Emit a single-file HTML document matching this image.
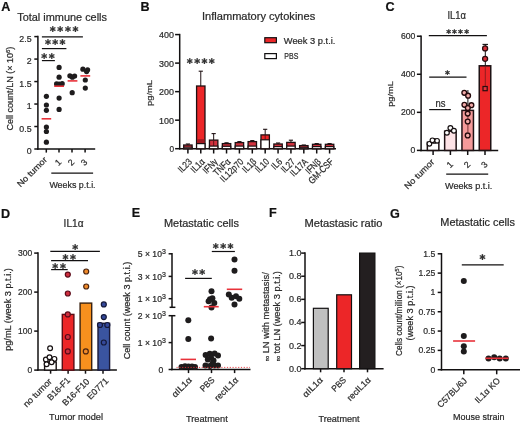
<!DOCTYPE html>
<html><head><meta charset="utf-8"><title>Figure</title>
<style>html,body{margin:0;padding:0;background:#fff;width:520px;height:425px;overflow:hidden}svg{display:block}text{stroke:#2a2a2a;stroke-width:0.22px;paint-order:stroke}</style></head>
<body>
<svg width="520" height="425" viewBox="0 0 520 425" font-family='"Liberation Sans", "DejaVu Sans", sans-serif' fill="#2a2a2a">
<rect width="100%" height="100%" fill="#fff"/>
<text x="1.2" y="11.3" font-size="12.6" font-weight="bold" fill="#111">A</text>
<text x="17.2" y="20.8" font-size="11" textLength="89.8" lengthAdjust="spacingAndGlyphs">Total immune cells</text>
<line x1="37.9" y1="35.86" x2="37.9" y2="149.75" stroke="#121011" stroke-width="1.5"/>
<line x1="34.3" y1="36.6" x2="37.9" y2="36.6" stroke="#121011" stroke-width="1.5"/>
<text x="31.6" y="41.6" font-size="8.8" text-anchor="end">2.5</text>
<line x1="34.3" y1="59.08" x2="37.9" y2="59.08" stroke="#121011" stroke-width="1.5"/>
<text x="31.6" y="64.08" font-size="8.8" text-anchor="end">2</text>
<line x1="34.3" y1="81.56" x2="37.9" y2="81.56" stroke="#121011" stroke-width="1.5"/>
<text x="31.6" y="86.56" font-size="8.8" text-anchor="end">1.5</text>
<line x1="34.3" y1="104.04" x2="37.9" y2="104.04" stroke="#121011" stroke-width="1.5"/>
<text x="31.6" y="109.04" font-size="8.8" text-anchor="end">1</text>
<line x1="34.3" y1="126.52" x2="37.9" y2="126.52" stroke="#121011" stroke-width="1.5"/>
<text x="31.6" y="131.52" font-size="8.8" text-anchor="end">0.5</text>
<line x1="34.3" y1="149" x2="37.9" y2="149" stroke="#121011" stroke-width="1.5"/>
<text x="31.6" y="154" font-size="8.8" text-anchor="end">0</text>
<line x1="37.15" y1="149" x2="95.2" y2="149" stroke="#121011" stroke-width="1.5"/>
<line x1="46.3" y1="149" x2="46.3" y2="152.6" stroke="#121011" stroke-width="1.5"/>
<line x1="59" y1="149" x2="59" y2="152.6" stroke="#121011" stroke-width="1.5"/>
<line x1="72" y1="149" x2="72" y2="152.6" stroke="#121011" stroke-width="1.5"/>
<line x1="85.1" y1="149" x2="85.1" y2="152.6" stroke="#121011" stroke-width="1.5"/>
<line x1="41.9" y1="36.8" x2="82.9" y2="36.8" stroke="#121011" stroke-width="1.2"/>
<text x="48.94" y="32.09" font-size="9.4" font-weight="bold" fill="#303030">∗</text>
<text x="56.54" y="32.09" font-size="9.4" font-weight="bold" fill="#303030">∗</text>
<text x="64.14" y="32.09" font-size="9.4" font-weight="bold" fill="#303030">∗</text>
<text x="71.64" y="32.09" font-size="9.4" font-weight="bold" fill="#303030">∗</text>
<line x1="41.9" y1="48.6" x2="66.4" y2="48.6" stroke="#121011" stroke-width="1.2"/>
<text x="44.24" y="45.29" font-size="9.4" font-weight="bold" fill="#303030">∗</text>
<text x="51.54" y="45.29" font-size="9.4" font-weight="bold" fill="#303030">∗</text>
<text x="58.74" y="45.29" font-size="9.4" font-weight="bold" fill="#303030">∗</text>
<line x1="41.9" y1="60.6" x2="54.9" y2="60.6" stroke="#121011" stroke-width="1.2"/>
<text x="40.44" y="59.49" font-size="9.4" font-weight="bold" fill="#303030">∗</text>
<text x="48.04" y="59.49" font-size="9.4" font-weight="bold" fill="#303030">∗</text>
<circle cx="46.4" cy="96.3" r="2.6" fill="#1e1c1d"/>
<circle cx="46.4" cy="105" r="2.6" fill="#1e1c1d"/>
<circle cx="46.4" cy="110.3" r="2.6" fill="#1e1c1d"/>
<circle cx="46.4" cy="127" r="2.6" fill="#1e1c1d"/>
<circle cx="46.4" cy="131.5" r="2.6" fill="#1e1c1d"/>
<circle cx="46.4" cy="142.2" r="2.6" fill="#1e1c1d"/>
<circle cx="59.1" cy="67.4" r="2.6" fill="#1e1c1d"/>
<circle cx="59.1" cy="77.2" r="2.6" fill="#1e1c1d"/>
<circle cx="56.6" cy="83.9" r="2.6" fill="#1e1c1d"/>
<circle cx="59.2" cy="84.2" r="2.6" fill="#1e1c1d"/>
<circle cx="62.2" cy="83.7" r="2.6" fill="#1e1c1d"/>
<circle cx="59.1" cy="98.1" r="2.6" fill="#1e1c1d"/>
<circle cx="59.1" cy="109.4" r="2.6" fill="#1e1c1d"/>
<circle cx="69.9" cy="75.8" r="2.6" fill="#1e1c1d"/>
<circle cx="72.4" cy="77.2" r="2.6" fill="#1e1c1d"/>
<circle cx="74.6" cy="76" r="2.6" fill="#1e1c1d"/>
<circle cx="72.2" cy="92.7" r="2.6" fill="#1e1c1d"/>
<circle cx="82.9" cy="69.2" r="2.6" fill="#1e1c1d"/>
<circle cx="87.6" cy="69.8" r="2.6" fill="#1e1c1d"/>
<circle cx="86.6" cy="71.6" r="2.6" fill="#1e1c1d"/>
<circle cx="85.3" cy="80" r="2.6" fill="#1e1c1d"/>
<circle cx="85.3" cy="88.1" r="2.6" fill="#1e1c1d"/>
<line x1="41.6" y1="118.8" x2="51.2" y2="118.8" stroke="#e8323a" stroke-width="1.6"/>
<line x1="54.2" y1="86.2" x2="64" y2="86.2" stroke="#e8323a" stroke-width="1.6"/>
<line x1="67.6" y1="80.9" x2="77.4" y2="80.9" stroke="#e8323a" stroke-width="1.6"/>
<line x1="80.4" y1="75.9" x2="90.2" y2="75.9" stroke="#e8323a" stroke-width="1.6"/>
<text x="47.7" y="160.3" font-size="8.5" text-anchor="end" textLength="38.6" lengthAdjust="spacingAndGlyphs" transform="rotate(-45 47.7 160.3)">No tumor</text>
<text x="62" y="162.8" font-size="8.8" text-anchor="end" transform="rotate(-45 62 162.8)">1</text>
<text x="75" y="162.8" font-size="8.8" text-anchor="end" transform="rotate(-45 75 162.8)">2</text>
<text x="88.1" y="162.8" font-size="8.8" text-anchor="end" transform="rotate(-45 88.1 162.8)">3</text>
<line x1="51.3" y1="173.1" x2="93.1" y2="173.1" stroke="#121011" stroke-width="1.3"/>
<text x="49.4" y="188.3" font-size="9.2" textLength="46.2" lengthAdjust="spacingAndGlyphs">Weeks p.t.i.</text>
<text x="13.4" y="88.6" font-size="9.2" text-anchor="middle" textLength="83.8" lengthAdjust="spacingAndGlyphs" transform="rotate(-90 13.4 88.6)">Cell count/LN (× 10<tspan font-size="6" dy="-3">6</tspan><tspan dy="3">)</tspan></text>
<text x="140.6" y="10.9" font-size="12.6" font-weight="bold" fill="#111">B</text>
<text x="202" y="19.5" font-size="10.2" textLength="113.2" lengthAdjust="spacingAndGlyphs">Inflammatory cytokines</text>
<rect x="264.8" y="37.7" width="11.6" height="5" fill="#ec2628" stroke="#121011" stroke-width="1.2"/>
<rect x="264.8" y="53.6" width="11.6" height="5" fill="#fff" stroke="#121011" stroke-width="1.2"/>
<text x="283.8" y="43.8" font-size="9.6" textLength="51.6" lengthAdjust="spacingAndGlyphs">Week 3 p.t.i.</text>
<text x="284.3" y="59.4" font-size="9.4" textLength="14" lengthAdjust="spacingAndGlyphs">PBS</text>
<line x1="179.7" y1="33.84" x2="179.7" y2="149.45" stroke="#121011" stroke-width="1.5"/>
<line x1="175.1" y1="34.58" x2="179.7" y2="34.58" stroke="#121011" stroke-width="1.5"/>
<text x="174" y="37.98" font-size="9.6" text-anchor="end" textLength="14.9" lengthAdjust="spacingAndGlyphs">400</text>
<line x1="175.1" y1="63.11" x2="179.7" y2="63.11" stroke="#121011" stroke-width="1.5"/>
<text x="174" y="66.51" font-size="9.6" text-anchor="end" textLength="14.9" lengthAdjust="spacingAndGlyphs">300</text>
<line x1="175.1" y1="91.64" x2="179.7" y2="91.64" stroke="#121011" stroke-width="1.5"/>
<text x="174" y="95.04" font-size="9.6" text-anchor="end" textLength="14.9" lengthAdjust="spacingAndGlyphs">200</text>
<line x1="175.1" y1="120.17" x2="179.7" y2="120.17" stroke="#121011" stroke-width="1.5"/>
<text x="174" y="123.57" font-size="9.6" text-anchor="end" textLength="14.9" lengthAdjust="spacingAndGlyphs">100</text>
<line x1="175.1" y1="148.7" x2="179.7" y2="148.7" stroke="#121011" stroke-width="1.5"/>
<text x="174" y="152.1" font-size="9.6" text-anchor="end" textLength="4.6" lengthAdjust="spacingAndGlyphs">0</text>
<line x1="178.95" y1="148.7" x2="336" y2="148.7" stroke="#121011" stroke-width="1.5"/>
<line x1="187.9" y1="148.7" x2="187.9" y2="153.5" stroke="#121011" stroke-width="1.5"/>
<line x1="200.78" y1="148.7" x2="200.78" y2="153.5" stroke="#121011" stroke-width="1.5"/>
<line x1="213.66" y1="148.7" x2="213.66" y2="153.5" stroke="#121011" stroke-width="1.5"/>
<line x1="226.54" y1="148.7" x2="226.54" y2="153.5" stroke="#121011" stroke-width="1.5"/>
<line x1="239.42" y1="148.7" x2="239.42" y2="153.5" stroke="#121011" stroke-width="1.5"/>
<line x1="252.3" y1="148.7" x2="252.3" y2="153.5" stroke="#121011" stroke-width="1.5"/>
<line x1="265.18" y1="148.7" x2="265.18" y2="153.5" stroke="#121011" stroke-width="1.5"/>
<line x1="278.06" y1="148.7" x2="278.06" y2="153.5" stroke="#121011" stroke-width="1.5"/>
<line x1="290.94" y1="148.7" x2="290.94" y2="153.5" stroke="#121011" stroke-width="1.5"/>
<line x1="303.82" y1="148.7" x2="303.82" y2="153.5" stroke="#121011" stroke-width="1.5"/>
<line x1="316.7" y1="148.7" x2="316.7" y2="153.5" stroke="#121011" stroke-width="1.5"/>
<line x1="329.58" y1="148.7" x2="329.58" y2="153.5" stroke="#121011" stroke-width="1.5"/>
<line x1="187.9" y1="144" x2="187.9" y2="145" stroke="#1e1012" stroke-width="1"/>
<line x1="185.8" y1="144" x2="190" y2="144" stroke="#1e1012" stroke-width="1.1"/>
<rect x="183.7" y="145" width="8.4" height="3.7" fill="#d2323e" stroke="#1e1012" stroke-width="1.3"/>
<rect x="183.7" y="147.2" width="8.4" height="1.5" fill="#ffffff" stroke="#1e1012" stroke-width="1.2"/>
<line x1="200.78" y1="71.2" x2="200.78" y2="86" stroke="#1e1012" stroke-width="1"/>
<line x1="198.68" y1="71.2" x2="202.88" y2="71.2" stroke="#1e1012" stroke-width="1.1"/>
<rect x="196.58" y="86" width="8.4" height="62.7" fill="#ec2628" stroke="#1e1012" stroke-width="1.3"/>
<rect x="197.18" y="139.2" width="7.2" height="4.4" fill="#a01820" stroke="none" stroke-width="0"/>
<rect x="196.58" y="143.6" width="8.4" height="5.1" fill="#ffffff" stroke="#1e1012" stroke-width="1.2"/>
<line x1="213.66" y1="133.6" x2="213.66" y2="140.1" stroke="#1e1012" stroke-width="1"/>
<line x1="211.56" y1="133.6" x2="215.76" y2="133.6" stroke="#1e1012" stroke-width="1.1"/>
<rect x="209.46" y="140.1" width="8.4" height="8.6" fill="#d2323e" stroke="#1e1012" stroke-width="1.3"/>
<line x1="213.66" y1="140.1" x2="213.66" y2="146.1" stroke="#5a1016" stroke-width="0.9"/>
<rect x="209.46" y="146.1" width="8.4" height="2.6" fill="#ffffff" stroke="#1e1012" stroke-width="1.2"/>
<line x1="226.54" y1="142.8" x2="226.54" y2="143.6" stroke="#1e1012" stroke-width="1"/>
<line x1="224.44" y1="142.8" x2="228.64" y2="142.8" stroke="#1e1012" stroke-width="1.1"/>
<rect x="222.34" y="143.6" width="8.4" height="5.1" fill="#d2323e" stroke="#1e1012" stroke-width="1.3"/>
<rect x="222.34" y="146.3" width="8.4" height="2.4" fill="#ffffff" stroke="#1e1012" stroke-width="1.2"/>
<line x1="239.42" y1="141.6" x2="239.42" y2="142.6" stroke="#1e1012" stroke-width="1"/>
<line x1="237.32" y1="141.6" x2="241.52" y2="141.6" stroke="#1e1012" stroke-width="1.1"/>
<rect x="235.22" y="142.6" width="8.4" height="6.1" fill="#d2323e" stroke="#1e1012" stroke-width="1.3"/>
<rect x="235.22" y="146.1" width="8.4" height="2.6" fill="#ffffff" stroke="#1e1012" stroke-width="1.2"/>
<line x1="252.3" y1="140.6" x2="252.3" y2="141.6" stroke="#1e1012" stroke-width="1"/>
<line x1="250.2" y1="140.6" x2="254.4" y2="140.6" stroke="#1e1012" stroke-width="1.1"/>
<rect x="248.1" y="141.6" width="8.4" height="7.1" fill="#d2323e" stroke="#1e1012" stroke-width="1.3"/>
<rect x="248.1" y="146.1" width="8.4" height="2.6" fill="#ffffff" stroke="#1e1012" stroke-width="1.2"/>
<line x1="265.18" y1="129.3" x2="265.18" y2="134.9" stroke="#1e1012" stroke-width="1"/>
<line x1="263.08" y1="129.3" x2="267.28" y2="129.3" stroke="#1e1012" stroke-width="1.1"/>
<rect x="260.98" y="134.9" width="8.4" height="13.8" fill="#ec2628" stroke="#1e1012" stroke-width="1.3"/>
<line x1="265.18" y1="134.9" x2="265.18" y2="139.8" stroke="#5a1016" stroke-width="0.9"/>
<rect x="260.98" y="139.8" width="8.4" height="8.9" fill="#ffffff" stroke="#1e1012" stroke-width="1.2"/>
<line x1="278.06" y1="143" x2="278.06" y2="144" stroke="#1e1012" stroke-width="1"/>
<line x1="275.96" y1="143" x2="280.16" y2="143" stroke="#1e1012" stroke-width="1.1"/>
<rect x="273.86" y="144" width="8.4" height="4.7" fill="#d2323e" stroke="#1e1012" stroke-width="1.3"/>
<rect x="273.86" y="146.6" width="8.4" height="2.1" fill="#ffffff" stroke="#1e1012" stroke-width="1.2"/>
<line x1="290.94" y1="140.2" x2="290.94" y2="142.4" stroke="#1e1012" stroke-width="1"/>
<line x1="288.84" y1="140.2" x2="293.04" y2="140.2" stroke="#1e1012" stroke-width="1.1"/>
<rect x="286.74" y="142.4" width="8.4" height="6.3" fill="#d2323e" stroke="#1e1012" stroke-width="1.3"/>
<rect x="286.74" y="146.1" width="8.4" height="2.6" fill="#ffffff" stroke="#1e1012" stroke-width="1.2"/>
<line x1="303.82" y1="145" x2="303.82" y2="145.6" stroke="#1e1012" stroke-width="1"/>
<line x1="301.72" y1="145" x2="305.92" y2="145" stroke="#1e1012" stroke-width="1.1"/>
<rect x="299.62" y="145.6" width="8.4" height="3.1" fill="#d2323e" stroke="#1e1012" stroke-width="1.3"/>
<rect x="299.62" y="147.3" width="8.4" height="1.4" fill="#ffffff" stroke="#1e1012" stroke-width="1.2"/>
<line x1="316.7" y1="143.6" x2="316.7" y2="144.3" stroke="#1e1012" stroke-width="1"/>
<line x1="314.6" y1="143.6" x2="318.8" y2="143.6" stroke="#1e1012" stroke-width="1.1"/>
<rect x="312.5" y="144.3" width="8.4" height="4.4" fill="#d2323e" stroke="#1e1012" stroke-width="1.3"/>
<rect x="312.5" y="146.6" width="8.4" height="2.1" fill="#ffffff" stroke="#1e1012" stroke-width="1.2"/>
<line x1="329.58" y1="143.6" x2="329.58" y2="144.3" stroke="#1e1012" stroke-width="1"/>
<line x1="327.48" y1="143.6" x2="331.68" y2="143.6" stroke="#1e1012" stroke-width="1.1"/>
<rect x="325.38" y="144.3" width="8.4" height="4.4" fill="#d2323e" stroke="#1e1012" stroke-width="1.3"/>
<rect x="325.38" y="146.6" width="8.4" height="2.1" fill="#ffffff" stroke="#1e1012" stroke-width="1.2"/>
<text x="186.04" y="64.09" font-size="9.4" font-weight="bold" fill="#303030">∗</text>
<text x="193.44" y="64.09" font-size="9.4" font-weight="bold" fill="#303030">∗</text>
<text x="200.74" y="64.09" font-size="9.4" font-weight="bold" fill="#303030">∗</text>
<text x="208.04" y="64.09" font-size="9.4" font-weight="bold" fill="#303030">∗</text>
<text x="192.6" y="162.4" font-size="9.6" text-anchor="end" textLength="15.41" lengthAdjust="spacingAndGlyphs" transform="rotate(-45 192.6 162.4)">IL23</text>
<text x="205.48" y="162.4" font-size="9.6" text-anchor="end" textLength="15.59" lengthAdjust="spacingAndGlyphs" transform="rotate(-45 205.48 162.4)">IL1α</text>
<text x="218.36" y="162.4" font-size="9.6" text-anchor="end" textLength="16.72" lengthAdjust="spacingAndGlyphs" transform="rotate(-45 218.36 162.4)">IFNγ</text>
<text x="231.24" y="162.4" font-size="9.6" text-anchor="end" textLength="19.97" lengthAdjust="spacingAndGlyphs" transform="rotate(-45 231.24 162.4)">TNFα</text>
<text x="244.12" y="162.4" font-size="9.6" text-anchor="end" textLength="28.63" lengthAdjust="spacingAndGlyphs" transform="rotate(-45 244.12 162.4)">IL12p70</text>
<text x="257" y="162.4" font-size="9.6" text-anchor="end" textLength="15.56" lengthAdjust="spacingAndGlyphs" transform="rotate(-45 257 162.4)">IL1β</text>
<text x="269.88" y="162.4" font-size="9.6" text-anchor="end" textLength="15.41" lengthAdjust="spacingAndGlyphs" transform="rotate(-45 269.88 162.4)">IL10</text>
<text x="282.76" y="162.4" font-size="9.6" text-anchor="end" textLength="11.01" lengthAdjust="spacingAndGlyphs" transform="rotate(-45 282.76 162.4)">IL6</text>
<text x="295.64" y="162.4" font-size="9.6" text-anchor="end" textLength="15.41" lengthAdjust="spacingAndGlyphs" transform="rotate(-45 295.64 162.4)">IL27</text>
<text x="308.52" y="162.4" font-size="9.6" text-anchor="end" textLength="20.7" lengthAdjust="spacingAndGlyphs" transform="rotate(-45 308.52 162.4)">IL17A</text>
<text x="321.4" y="162.4" font-size="9.6" text-anchor="end" textLength="17.31" lengthAdjust="spacingAndGlyphs" transform="rotate(-45 321.4 162.4)">IFNβ</text>
<text x="334.28" y="162.4" font-size="9.6" text-anchor="end" textLength="31.23" lengthAdjust="spacingAndGlyphs" transform="rotate(-45 334.28 162.4)">GM-CSF</text>
<text x="152.2" y="93" font-size="8" text-anchor="middle" textLength="26" lengthAdjust="spacingAndGlyphs" transform="rotate(-90 152.2 93)">pg/mL</text>
<text x="385.4" y="11" font-size="12.6" font-weight="bold" fill="#111">C</text>
<text x="447.4" y="19.3" font-size="10.4" textLength="18.5" lengthAdjust="spacingAndGlyphs">IL1α</text>
<line x1="421.1" y1="35.48" x2="421.1" y2="151.15" stroke="#121011" stroke-width="1.5"/>
<line x1="416.9" y1="36.22" x2="421.1" y2="36.22" stroke="#121011" stroke-width="1.5"/>
<text x="415.4" y="39.12" font-size="9.4" text-anchor="end" textLength="14.43" lengthAdjust="spacingAndGlyphs">600</text>
<line x1="416.9" y1="74.28" x2="421.1" y2="74.28" stroke="#121011" stroke-width="1.5"/>
<text x="415.4" y="77.18" font-size="9.4" text-anchor="end" textLength="14.43" lengthAdjust="spacingAndGlyphs">400</text>
<line x1="416.9" y1="112.34" x2="421.1" y2="112.34" stroke="#121011" stroke-width="1.5"/>
<text x="415.4" y="115.24" font-size="9.4" text-anchor="end" textLength="14.43" lengthAdjust="spacingAndGlyphs">200</text>
<line x1="416.9" y1="150.4" x2="421.1" y2="150.4" stroke="#121011" stroke-width="1.5"/>
<text x="415.4" y="153.3" font-size="9.4" text-anchor="end" textLength="4.81" lengthAdjust="spacingAndGlyphs">0</text>
<line x1="420.35" y1="150.4" x2="498.2" y2="150.4" stroke="#121011" stroke-width="1.5"/>
<line x1="433.1" y1="150.4" x2="433.1" y2="155" stroke="#121011" stroke-width="1.5"/>
<line x1="450.4" y1="150.4" x2="450.4" y2="155" stroke="#121011" stroke-width="1.5"/>
<line x1="467.7" y1="150.4" x2="467.7" y2="155" stroke="#121011" stroke-width="1.5"/>
<line x1="485" y1="150.4" x2="485" y2="155" stroke="#121011" stroke-width="1.5"/>
<line x1="485.3" y1="44.4" x2="485.3" y2="66" stroke="#121011" stroke-width="1"/>
<line x1="482.5" y1="44.4" x2="488" y2="44.4" stroke="#121011" stroke-width="1.1"/>
<line x1="467.9" y1="90" x2="467.9" y2="111" stroke="#121011" stroke-width="1"/>
<rect x="427.35" y="142.3" width="11.5" height="8.1" fill="#ffffff" stroke="#1e1214" stroke-width="1.5"/>
<rect x="444.65" y="131.2" width="11.5" height="19.2" fill="#fde3e6" stroke="#1e1214" stroke-width="1.5"/>
<rect x="461.95" y="110.4" width="11.5" height="40" fill="#f49a9a" stroke="#1e1214" stroke-width="1.5"/>
<rect x="479.25" y="65.8" width="11.5" height="84.6" fill="#ec2628" stroke="#1e1214" stroke-width="1.5"/>
<line x1="485.3" y1="66" x2="485.3" y2="86" stroke="#7a1a1c" stroke-width="0.8"/>
<line x1="467.9" y1="110.4" x2="467.9" y2="132" stroke="#5a1a1c" stroke-width="0.8"/>
<circle cx="429.4" cy="143.8" r="2.3" fill="#ffffff" stroke="#161011" stroke-width="1.2"/>
<circle cx="434.1" cy="140.9" r="2.3" fill="#ffffff" stroke="#161011" stroke-width="1.2"/>
<circle cx="432.4" cy="140.3" r="2.3" fill="#ffffff" stroke="#161011" stroke-width="1.2"/>
<circle cx="437.1" cy="140.8" r="2.3" fill="#ffffff" stroke="#161011" stroke-width="1.2"/>
<circle cx="446.9" cy="132.7" r="2.4" fill="#ffffff" stroke="#161011" stroke-width="1.2"/>
<circle cx="450.4" cy="128" r="2.4" fill="#ffffff" stroke="#161011" stroke-width="1.2"/>
<circle cx="453.9" cy="130.7" r="2.4" fill="#ffffff" stroke="#161011" stroke-width="1.2"/>
<circle cx="464.3" cy="92.8" r="2.4" fill="#f2aaa8" stroke="#240a0c" stroke-width="1.35"/>
<circle cx="468.1" cy="95.7" r="2.4" fill="#f2aaa8" stroke="#240a0c" stroke-width="1.35"/>
<circle cx="464.4" cy="104.8" r="2.4" fill="#f2aaa8" stroke="#240a0c" stroke-width="1.35"/>
<circle cx="471.4" cy="105.2" r="2.4" fill="#f2aaa8" stroke="#240a0c" stroke-width="1.35"/>
<circle cx="467.8" cy="108" r="2.4" fill="#f2aaa8" stroke="#240a0c" stroke-width="1.35"/>
<circle cx="467.7" cy="113.6" r="2.4" fill="#f2aaa8" stroke="#240a0c" stroke-width="1.35"/>
<circle cx="467.7" cy="121.5" r="2.4" fill="#f2aaa8" stroke="#240a0c" stroke-width="1.35"/>
<circle cx="467.7" cy="135.4" r="2.4" fill="#f2aaa8" stroke="#240a0c" stroke-width="1.35"/>
<circle cx="485.1" cy="48.4" r="2.5" fill="#d8303a" stroke="#2a0c0e" stroke-width="1.3"/>
<circle cx="485.1" cy="58.8" r="2.5" fill="#d8303a" stroke="#2a0c0e" stroke-width="1.3"/>
<rect x="483" y="86.5" width="4.2" height="4.2" fill="#e0353d" stroke="#2a0c0e" stroke-width="1.2"/>
<line x1="428.8" y1="35.7" x2="486.9" y2="35.7" stroke="#121011" stroke-width="1.2"/>
<text x="445.56" y="34.06" font-size="7.6" font-weight="bold" fill="#303030">∗</text>
<text x="451.26" y="34.06" font-size="7.6" font-weight="bold" fill="#303030">∗</text>
<text x="457.26" y="34.06" font-size="7.6" font-weight="bold" fill="#303030">∗</text>
<text x="463.46" y="34.06" font-size="7.6" font-weight="bold" fill="#303030">∗</text>
<line x1="429.2" y1="77.2" x2="466.5" y2="77.2" stroke="#121011" stroke-width="1.2"/>
<text x="444.26" y="74.66" font-size="7.6" font-weight="bold" fill="#303030">∗</text>
<line x1="429.2" y1="109.6" x2="450.8" y2="109.6" stroke="#121011" stroke-width="1.2"/>
<text x="440.6" y="106.8" font-size="10" text-anchor="middle" textLength="10" lengthAdjust="spacingAndGlyphs">ns</text>
<text x="435" y="162.6" font-size="8.6" text-anchor="end" textLength="38.5" lengthAdjust="spacingAndGlyphs" transform="rotate(-45 435 162.6)">No tumor</text>
<text x="453.6" y="165" font-size="8.8" text-anchor="end" transform="rotate(-45 453.6 165)">1</text>
<text x="470.9" y="165" font-size="8.8" text-anchor="end" transform="rotate(-45 470.9 165)">2</text>
<text x="488.2" y="165" font-size="8.8" text-anchor="end" transform="rotate(-45 488.2 165)">3</text>
<line x1="446.2" y1="174.2" x2="488.2" y2="174.2" stroke="#121011" stroke-width="1.3"/>
<text x="445" y="188.5" font-size="9.2" textLength="47.4" lengthAdjust="spacingAndGlyphs">Weeks p.t.i.</text>
<text x="392.7" y="94" font-size="8" text-anchor="middle" textLength="25.5" lengthAdjust="spacingAndGlyphs" transform="rotate(-90 392.7 94)">pg/mL</text>
<text x="1" y="217.7" font-size="12.6" font-weight="bold" fill="#111">D</text>
<text x="63.6" y="227.1" font-size="10.2" textLength="19.9" lengthAdjust="spacingAndGlyphs">IL1α</text>
<line x1="38" y1="252.36" x2="38" y2="370.85" stroke="#121011" stroke-width="1.5"/>
<line x1="34.2" y1="253.1" x2="38" y2="253.1" stroke="#121011" stroke-width="1.5"/>
<text x="32.3" y="256.2" font-size="9.6" text-anchor="end" textLength="14.25" lengthAdjust="spacingAndGlyphs">300</text>
<line x1="34.2" y1="292.1" x2="38" y2="292.1" stroke="#121011" stroke-width="1.5"/>
<text x="32.3" y="295.2" font-size="9.6" text-anchor="end" textLength="14.25" lengthAdjust="spacingAndGlyphs">200</text>
<line x1="34.2" y1="331.1" x2="38" y2="331.1" stroke="#121011" stroke-width="1.5"/>
<text x="32.3" y="334.2" font-size="9.6" text-anchor="end" textLength="14.25" lengthAdjust="spacingAndGlyphs">100</text>
<line x1="34.2" y1="370.1" x2="38" y2="370.1" stroke="#121011" stroke-width="1.5"/>
<text x="32.3" y="373.2" font-size="9.6" text-anchor="end" textLength="4.75" lengthAdjust="spacingAndGlyphs">0</text>
<line x1="37.25" y1="370.1" x2="116.9" y2="370.1" stroke="#121011" stroke-width="1.5"/>
<line x1="50.6" y1="370.1" x2="50.6" y2="373.7" stroke="#121011" stroke-width="1.5"/>
<line x1="68.1" y1="370.1" x2="68.1" y2="373.7" stroke="#121011" stroke-width="1.5"/>
<line x1="85.5" y1="370.1" x2="85.5" y2="373.7" stroke="#121011" stroke-width="1.5"/>
<line x1="103" y1="370.1" x2="103" y2="373.7" stroke="#121011" stroke-width="1.5"/>
<rect x="44.6" y="362" width="11.6" height="8.1" fill="#ffffff" stroke="#161011" stroke-width="1.4"/>
<rect x="62.3" y="314.4" width="11.6" height="55.7" fill="#ec2628" stroke="#5a0c14" stroke-width="1.4"/>
<rect x="80.1" y="303.1" width="11.6" height="67" fill="#f7901e" stroke="#3a2210" stroke-width="1.4"/>
<rect x="98" y="323.3" width="11.6" height="46.8" fill="#3a54a0" stroke="#1a1a3a" stroke-width="1.4"/>
<circle cx="50.1" cy="348.3" r="2.4" fill="#ffffff" stroke="#161011" stroke-width="1.2"/>
<circle cx="45.9" cy="359.5" r="2.4" fill="#ffffff" stroke="#161011" stroke-width="1.2"/>
<circle cx="49.5" cy="357.2" r="2.4" fill="#ffffff" stroke="#161011" stroke-width="1.2"/>
<circle cx="54.4" cy="358.9" r="2.4" fill="#ffffff" stroke="#161011" stroke-width="1.2"/>
<circle cx="46.6" cy="364.2" r="2.4" fill="#ffffff" stroke="#161011" stroke-width="1.2"/>
<circle cx="51.6" cy="362.2" r="2.4" fill="#ffffff" stroke="#161011" stroke-width="1.2"/>
<circle cx="67.8" cy="274.6" r="2.5" fill="#d02e3e" stroke="#5a0a18" stroke-width="1.2"/>
<circle cx="67.8" cy="293.5" r="2.5" fill="#d02e3e" stroke="#5a0a18" stroke-width="1.2"/>
<circle cx="67.8" cy="314.4" r="2.5" fill="#d02e3e" stroke="#5a0a18" stroke-width="1.2"/>
<circle cx="67.8" cy="337" r="2.5" fill="#d02e3e" stroke="#5a0a18" stroke-width="1.2"/>
<circle cx="67.8" cy="351.4" r="2.5" fill="#d02e3e" stroke="#5a0a18" stroke-width="1.2"/>
<circle cx="86.2" cy="271.5" r="2.5" fill="#f08a2a" stroke="#4a2410" stroke-width="1.2"/>
<circle cx="86.2" cy="286.5" r="2.5" fill="#f08a2a" stroke="#4a2410" stroke-width="1.2"/>
<circle cx="85.8" cy="351.4" r="2.5" fill="#f08a2a" stroke="#4a2410" stroke-width="1.2"/>
<circle cx="103.8" cy="304.4" r="2.5" fill="#34489a" stroke="#141838" stroke-width="1.2"/>
<circle cx="103.8" cy="317.1" r="2.5" fill="#34489a" stroke="#141838" stroke-width="1.2"/>
<circle cx="100" cy="325" r="2.5" fill="#34489a" stroke="#141838" stroke-width="1.2"/>
<circle cx="107.3" cy="325" r="2.5" fill="#34489a" stroke="#141838" stroke-width="1.2"/>
<circle cx="103.8" cy="342.5" r="2.5" fill="#34489a" stroke="#141838" stroke-width="1.2"/>
<line x1="50.3" y1="251.4" x2="99.9" y2="251.4" stroke="#121011" stroke-width="1.2"/>
<text x="71.44" y="250.09" font-size="9.4" font-weight="bold" fill="#303030">∗</text>
<line x1="51.1" y1="260.6" x2="88" y2="260.6" stroke="#121011" stroke-width="1.2"/>
<text x="61.64" y="259.69" font-size="9.4" font-weight="bold" fill="#303030">∗</text>
<text x="69.14" y="259.69" font-size="9.4" font-weight="bold" fill="#303030">∗</text>
<line x1="51.1" y1="269.6" x2="67.7" y2="269.6" stroke="#121011" stroke-width="1.2"/>
<text x="51.54" y="268.69" font-size="9.4" font-weight="bold" fill="#303030">∗</text>
<text x="59.34" y="268.69" font-size="9.4" font-weight="bold" fill="#303030">∗</text>
<text x="52.5" y="382" font-size="8.8" text-anchor="end" textLength="36.5" lengthAdjust="spacingAndGlyphs" transform="rotate(-45 52.5 382)">no tumor</text>
<text x="70.8" y="380.8" font-size="8.8" text-anchor="end" textLength="28.5" lengthAdjust="spacingAndGlyphs" transform="rotate(-45 70.8 380.8)">B16-F1</text>
<text x="89.9" y="382.3" font-size="8.8" text-anchor="end" textLength="34" lengthAdjust="spacingAndGlyphs" transform="rotate(-45 89.9 382.3)">B16-F10</text>
<text x="109" y="381.5" font-size="8.8" text-anchor="end" textLength="26" lengthAdjust="spacingAndGlyphs" transform="rotate(-45 109 381.5)">E0771</text>
<text x="49.1" y="420.4" font-size="9.2" textLength="53.9" lengthAdjust="spacingAndGlyphs">Tumor model</text>
<text x="11" y="309.5" font-size="8.8" text-anchor="middle" textLength="82.7" lengthAdjust="spacingAndGlyphs" transform="rotate(-90 11 309.5)">pg/mL (week 3 p.t.i.)</text>
<text x="131.8" y="217.3" font-size="12.6" font-weight="bold" fill="#111">E</text>
<text x="163.9" y="227" font-size="10.8" textLength="75" lengthAdjust="spacingAndGlyphs">Metastatic cells</text>
<line x1="172" y1="253.1" x2="172" y2="307.3" stroke="#121011" stroke-width="1.5"/>
<line x1="169.6" y1="307.3" x2="175.4" y2="307.3" stroke="#121011" stroke-width="1.5"/>
<line x1="172" y1="315.7" x2="172" y2="370.2" stroke="#121011" stroke-width="1.5"/>
<line x1="168.6" y1="315.7" x2="175.4" y2="315.7" stroke="#121011" stroke-width="1.5"/>
<line x1="168.6" y1="253.8" x2="172" y2="253.8" stroke="#121011" stroke-width="1.5"/>
<line x1="168.6" y1="276.4" x2="172" y2="276.4" stroke="#121011" stroke-width="1.5"/>
<line x1="168.6" y1="298.7" x2="172" y2="298.7" stroke="#121011" stroke-width="1.5"/>
<line x1="168.6" y1="342.6" x2="172" y2="342.6" stroke="#121011" stroke-width="1.5"/>
<line x1="168.6" y1="369.5" x2="172" y2="369.5" stroke="#121011" stroke-width="1.5"/>
<text x="137.8" y="257.2" font-size="8.6">5 × 10<tspan font-size="7" dy="-3.2">3</tspan></text>
<text x="137.8" y="279.8" font-size="8.6">3 × 10<tspan font-size="7" dy="-3.2">3</tspan></text>
<text x="137.8" y="302.1" font-size="8.6">1 × 10<tspan font-size="7" dy="-3.2">3</tspan></text>
<text x="137.8" y="319.1" font-size="8.6">2 × 10<tspan font-size="7" dy="-3.2">3</tspan></text>
<text x="137.8" y="346" font-size="8.6">1 × 10<tspan font-size="7" dy="-3.2">3</tspan></text>
<text x="163.2" y="372.9" font-size="8.6" text-anchor="end">0</text>
<line x1="171.25" y1="369.5" x2="250.5" y2="369.5" stroke="#121011" stroke-width="1.5"/>
<line x1="188.5" y1="369.5" x2="188.5" y2="373.1" stroke="#121011" stroke-width="1.5"/>
<line x1="211.5" y1="369.5" x2="211.5" y2="373.1" stroke="#121011" stroke-width="1.5"/>
<line x1="234.6" y1="369.5" x2="234.6" y2="373.1" stroke="#121011" stroke-width="1.5"/>
<circle cx="188.3" cy="320.3" r="3" fill="#1e1c1d"/>
<circle cx="188.3" cy="338.9" r="3" fill="#1e1c1d"/>
<circle cx="181.5" cy="367" r="3" fill="#1e1c1d"/>
<circle cx="185" cy="366.3" r="3" fill="#1e1c1d"/>
<circle cx="188.5" cy="366.6" r="3" fill="#1e1c1d"/>
<circle cx="192" cy="366.5" r="3" fill="#1e1c1d"/>
<circle cx="195" cy="367" r="3" fill="#1e1c1d"/>
<circle cx="211.1" cy="338.4" r="3" fill="#1e1c1d"/>
<circle cx="205.6" cy="355" r="3" fill="#1e1c1d"/>
<circle cx="209.8" cy="353.8" r="3" fill="#1e1c1d"/>
<circle cx="214.6" cy="353.6" r="3" fill="#1e1c1d"/>
<circle cx="218" cy="355.5" r="3" fill="#1e1c1d"/>
<circle cx="211" cy="357.5" r="3" fill="#1e1c1d"/>
<circle cx="207.8" cy="359.5" r="3" fill="#1e1c1d"/>
<circle cx="213.5" cy="360.5" r="3" fill="#1e1c1d"/>
<circle cx="205.5" cy="365.5" r="3" fill="#1e1c1d"/>
<circle cx="210" cy="366" r="3" fill="#1e1c1d"/>
<circle cx="214.5" cy="365.5" r="3" fill="#1e1c1d"/>
<circle cx="218" cy="365.5" r="3" fill="#1e1c1d"/>
<circle cx="212.5" cy="363.5" r="3" fill="#1e1c1d"/>
<circle cx="211.5" cy="291.3" r="3" fill="#1e1c1d"/>
<circle cx="210" cy="299.2" r="3" fill="#1e1c1d"/>
<circle cx="212.4" cy="298.3" r="3" fill="#1e1c1d"/>
<circle cx="214.3" cy="303.1" r="3" fill="#1e1c1d"/>
<circle cx="208.6" cy="301.2" r="3" fill="#1e1c1d"/>
<circle cx="211.5" cy="307.4" r="3" fill="#1e1c1d"/>
<circle cx="234.5" cy="259.6" r="3" fill="#1e1c1d"/>
<circle cx="234.5" cy="270.7" r="3" fill="#1e1c1d"/>
<circle cx="228.8" cy="294.4" r="3" fill="#1e1c1d"/>
<circle cx="231.7" cy="297.8" r="3" fill="#1e1c1d"/>
<circle cx="236" cy="296.3" r="3" fill="#1e1c1d"/>
<circle cx="239.3" cy="298.8" r="3" fill="#1e1c1d"/>
<circle cx="234.5" cy="304.5" r="3" fill="#1e1c1d"/>
<line x1="176.5" y1="367.4" x2="250" y2="367.4" stroke="#e8323a" stroke-width="0.9" stroke-dasharray="1.2 1.6"/>
<line x1="180.6" y1="359.4" x2="196" y2="359.4" stroke="#e8323a" stroke-width="1.6"/>
<line x1="203.8" y1="306.7" x2="218.7" y2="306.7" stroke="#e8323a" stroke-width="1.6"/>
<line x1="226.8" y1="289.3" x2="242.2" y2="289.3" stroke="#e8323a" stroke-width="1.6"/>
<line x1="185.1" y1="278.4" x2="211.8" y2="278.4" stroke="#121011" stroke-width="1.2"/>
<text x="191.14" y="275.19" font-size="9.4" font-weight="bold" fill="#303030">∗</text>
<text x="198.54" y="275.19" font-size="9.4" font-weight="bold" fill="#303030">∗</text>
<line x1="211.8" y1="251.5" x2="234.9" y2="251.5" stroke="#121011" stroke-width="1.2"/>
<text x="212.04" y="248.89" font-size="9.4" font-weight="bold" fill="#303030">∗</text>
<text x="219.44" y="248.89" font-size="9.4" font-weight="bold" fill="#303030">∗</text>
<text x="226.64" y="248.89" font-size="9.4" font-weight="bold" fill="#303030">∗</text>
<text x="192.5" y="380.6" font-size="8.8" text-anchor="end" textLength="24.5" lengthAdjust="spacingAndGlyphs" transform="rotate(-45 192.5 380.6)">αIL1α</text>
<text x="215.1" y="380.5" font-size="8.8" text-anchor="end" textLength="16.5" lengthAdjust="spacingAndGlyphs" transform="rotate(-45 215.1 380.5)">PBS</text>
<text x="238.9" y="380.6" font-size="8.8" text-anchor="end" textLength="29.5" lengthAdjust="spacingAndGlyphs" transform="rotate(-45 238.9 380.6)">recIL1α</text>
<text x="186" y="421.6" font-size="9.2" textLength="41.7" lengthAdjust="spacingAndGlyphs">Treatment</text>
<text x="130.2" y="310.5" font-size="8.8" text-anchor="middle" textLength="97.5" lengthAdjust="spacingAndGlyphs" transform="rotate(-90 130.2 310.5)">Cell count (week 3 p.t.i.)</text>
<text x="268.9" y="216.7" font-size="12.6" font-weight="bold" fill="#111">F</text>
<text x="304.5" y="227.2" font-size="10.2" textLength="78" lengthAdjust="spacingAndGlyphs">Metastasic ratio</text>
<line x1="305" y1="252.36" x2="305" y2="369.45" stroke="#121011" stroke-width="1.5"/>
<line x1="301.2" y1="253.1" x2="305" y2="253.1" stroke="#121011" stroke-width="1.5"/>
<text x="301.6" y="256.1" font-size="9.6" text-anchor="end" textLength="12.54" lengthAdjust="spacingAndGlyphs">1.0</text>
<line x1="301.2" y1="276.22" x2="305" y2="276.22" stroke="#121011" stroke-width="1.5"/>
<text x="301.6" y="279.22" font-size="9.6" text-anchor="end" textLength="12.54" lengthAdjust="spacingAndGlyphs">0.8</text>
<line x1="301.2" y1="299.34" x2="305" y2="299.34" stroke="#121011" stroke-width="1.5"/>
<text x="301.6" y="302.34" font-size="9.6" text-anchor="end" textLength="12.54" lengthAdjust="spacingAndGlyphs">0.6</text>
<line x1="301.2" y1="322.46" x2="305" y2="322.46" stroke="#121011" stroke-width="1.5"/>
<text x="301.6" y="325.46" font-size="9.6" text-anchor="end" textLength="12.54" lengthAdjust="spacingAndGlyphs">0.4</text>
<line x1="301.2" y1="345.58" x2="305" y2="345.58" stroke="#121011" stroke-width="1.5"/>
<text x="301.6" y="348.58" font-size="9.6" text-anchor="end" textLength="12.54" lengthAdjust="spacingAndGlyphs">0.2</text>
<line x1="301.2" y1="368.7" x2="305" y2="368.7" stroke="#121011" stroke-width="1.5"/>
<text x="301.6" y="371.7" font-size="9.6" text-anchor="end" textLength="12.54" lengthAdjust="spacingAndGlyphs">0.0</text>
<line x1="304.25" y1="368.7" x2="383.6" y2="368.7" stroke="#121011" stroke-width="1.5"/>
<line x1="320.6" y1="368.7" x2="320.6" y2="372.3" stroke="#121011" stroke-width="1.5"/>
<line x1="344" y1="368.7" x2="344" y2="372.3" stroke="#121011" stroke-width="1.5"/>
<line x1="367.5" y1="368.7" x2="367.5" y2="372.3" stroke="#121011" stroke-width="1.5"/>
<rect x="313.4" y="308.3" width="14.8" height="60.4" fill="#c0c0c0" stroke="#121011" stroke-width="1.2"/>
<rect x="336.7" y="294.8" width="14.8" height="73.9" fill="#ec2628" stroke="#121011" stroke-width="1.2"/>
<rect x="359.6" y="253.1" width="15.3" height="115.6" fill="#231f20" stroke="#121011" stroke-width="1.2"/>
<text x="323.4" y="380.6" font-size="8.8" text-anchor="end" textLength="24.5" lengthAdjust="spacingAndGlyphs" transform="rotate(-45 323.4 380.6)">αIL1α</text>
<text x="346.7" y="380.5" font-size="8.8" text-anchor="end" textLength="16.5" lengthAdjust="spacingAndGlyphs" transform="rotate(-45 346.7 380.5)">PBS</text>
<text x="371.3" y="380.6" font-size="8.8" text-anchor="end" textLength="29.5" lengthAdjust="spacingAndGlyphs" transform="rotate(-45 371.3 380.6)">recIL1α</text>
<text x="318.5" y="421.8" font-size="9.2" textLength="41.1" lengthAdjust="spacingAndGlyphs">Treatment</text>
<text x="269" y="316.7" font-size="8.8" text-anchor="middle" textLength="89.2" lengthAdjust="spacingAndGlyphs" transform="rotate(-90 269 316.7)"><tspan font-size="4.5">no</tspan> LN with metastasis/</text>
<text x="279.6" y="316.2" font-size="8.8" text-anchor="middle" textLength="90.3" lengthAdjust="spacingAndGlyphs" transform="rotate(-90 279.6 316.2)"><tspan font-size="4.5">no</tspan> tot LN (week 3 p.t.i.)</text>
<text x="390" y="217.7" font-size="12.6" font-weight="bold" fill="#111">G</text>
<text x="440.3" y="226.2" font-size="10.2" textLength="74.6" lengthAdjust="spacingAndGlyphs">Metastatic cells</text>
<line x1="441.5" y1="253.05" x2="441.5" y2="370.45" stroke="#121011" stroke-width="1.5"/>
<line x1="437.7" y1="253.79" x2="441.5" y2="253.79" stroke="#121011" stroke-width="1.5"/>
<text x="435.3" y="256.79" font-size="9.4" text-anchor="end" textLength="12.02" lengthAdjust="spacingAndGlyphs">1.5</text>
<line x1="437.7" y1="273.11" x2="441.5" y2="273.11" stroke="#121011" stroke-width="1.5"/>
<text x="435.3" y="276.11" font-size="9.4" text-anchor="end" textLength="16.83" lengthAdjust="spacingAndGlyphs">1.25</text>
<line x1="437.7" y1="292.43" x2="441.5" y2="292.43" stroke="#121011" stroke-width="1.5"/>
<text x="435.3" y="295.43" font-size="9.4" text-anchor="end" textLength="4.81" lengthAdjust="spacingAndGlyphs">1</text>
<line x1="437.7" y1="311.75" x2="441.5" y2="311.75" stroke="#121011" stroke-width="1.5"/>
<text x="435.3" y="314.75" font-size="9.4" text-anchor="end" textLength="16.83" lengthAdjust="spacingAndGlyphs">0.75</text>
<line x1="437.7" y1="331.06" x2="441.5" y2="331.06" stroke="#121011" stroke-width="1.5"/>
<text x="435.3" y="334.06" font-size="9.4" text-anchor="end" textLength="12.02" lengthAdjust="spacingAndGlyphs">0.5</text>
<line x1="437.7" y1="350.38" x2="441.5" y2="350.38" stroke="#121011" stroke-width="1.5"/>
<text x="435.3" y="353.38" font-size="9.4" text-anchor="end" textLength="16.83" lengthAdjust="spacingAndGlyphs">0.25</text>
<line x1="437.7" y1="369.7" x2="441.5" y2="369.7" stroke="#121011" stroke-width="1.5"/>
<text x="435.3" y="372.7" font-size="9.4" text-anchor="end" textLength="4.81" lengthAdjust="spacingAndGlyphs">0</text>
<line x1="440.75" y1="369.7" x2="521" y2="369.7" stroke="#121011" stroke-width="1.5"/>
<line x1="463.8" y1="369.7" x2="463.8" y2="374.3" stroke="#121011" stroke-width="1.5"/>
<line x1="496.7" y1="369.7" x2="496.7" y2="374.3" stroke="#121011" stroke-width="1.5"/>
<circle cx="463.8" cy="281" r="3" fill="#1e1c1d"/>
<circle cx="463.8" cy="336" r="3" fill="#1e1c1d"/>
<circle cx="463.8" cy="346.2" r="3" fill="#1e1c1d"/>
<circle cx="463.8" cy="351.5" r="3" fill="#1e1c1d"/>
<circle cx="488.5" cy="358.5" r="3" fill="#1e1c1d"/>
<circle cx="494.2" cy="357.3" r="3" fill="#1e1c1d"/>
<circle cx="499.7" cy="358.5" r="3" fill="#1e1c1d"/>
<circle cx="505.8" cy="358.5" r="3" fill="#1e1c1d"/>
<line x1="453.1" y1="341" x2="475.1" y2="341" stroke="#e8323a" stroke-width="1.6"/>
<line x1="485.4" y1="358.3" x2="508.5" y2="358.3" stroke="#e8323a" stroke-width="1.6"/>
<line x1="461.8" y1="264.9" x2="503.7" y2="264.9" stroke="#121011" stroke-width="1.2"/>
<text x="478.74" y="260.39" font-size="9.4" font-weight="bold" fill="#303030">∗</text>
<text x="467.6" y="381.4" font-size="8.8" text-anchor="end" textLength="38" lengthAdjust="spacingAndGlyphs" transform="rotate(-45 467.6 381.4)">C57BL/6J</text>
<text x="500.7" y="381.4" font-size="8.8" text-anchor="end" textLength="31.5" lengthAdjust="spacingAndGlyphs" transform="rotate(-45 500.7 381.4)">IL1α KO</text>
<text x="453.1" y="420.1" font-size="9.2" textLength="51.5" lengthAdjust="spacingAndGlyphs">Mouse strain</text>
<text x="402.4" y="310.8" font-size="8.8" text-anchor="middle" textLength="90.4" lengthAdjust="spacingAndGlyphs" transform="rotate(-90 402.4 310.8)">Cells count/million (×10<tspan font-size="6" dy="-3">5</tspan><tspan dy="3">)</tspan></text>
<text x="413" y="312.9" font-size="8.8" text-anchor="middle" textLength="55" lengthAdjust="spacingAndGlyphs" transform="rotate(-90 413 312.9)">(week 3 p.t.i.)</text>
</svg>
</body></html>
